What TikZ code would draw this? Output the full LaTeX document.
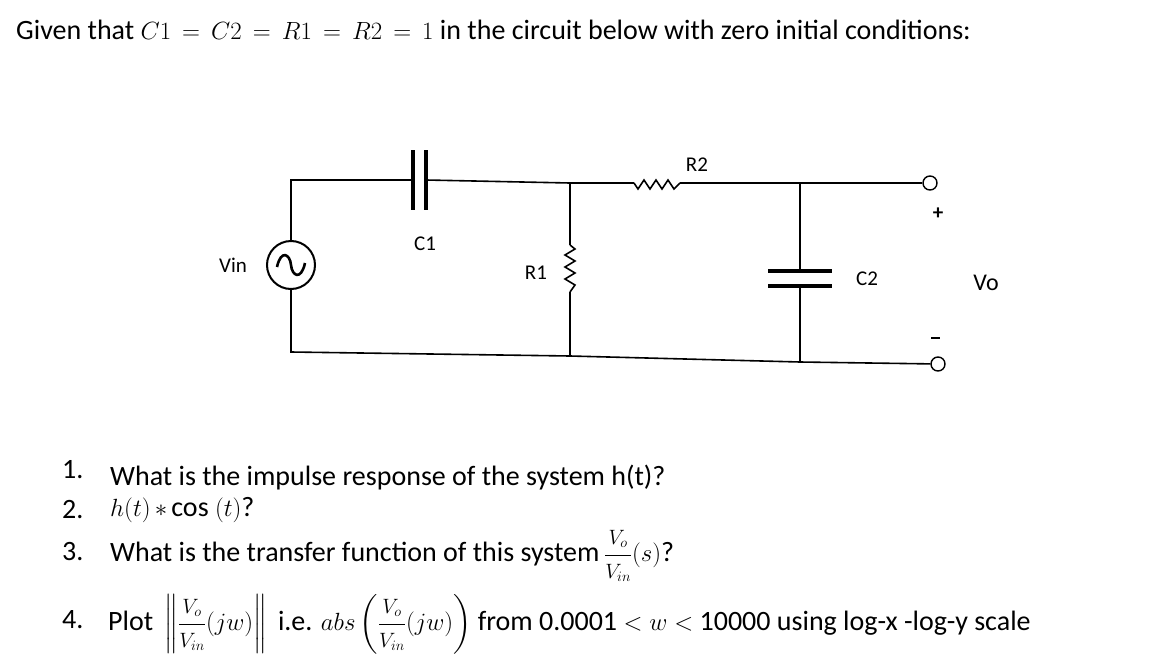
\documentclass[tikz,border=0pt]{standalone}
\usepackage{fontspec}
\setmainfont{Carlito}
\usepackage{amsmath}
\newcommand{\myfr}[2]{\genfrac{}{}{}{0}{\scriptstyle #1}{\scriptstyle #2}}
\begin{document}
\begin{tikzpicture}[x=1pt,y=-1pt,
  w/.style={line width=1.6pt},
  plate/.style={line width=3.2pt},
  lab/.style={font=\fontsize{21}{24}\selectfont},
  txt/.style={font=\fontsize{28}{32}\selectfont,anchor=west,inner sep=0},
  term/.style={circle,draw,line width=1.4pt,minimum size=14pt,inner sep=0,fill=white}]
\useasboundingbox (0,0) rectangle (1152,672);
\coordinate (tl) at (291,180);
\coordinate (bl) at (291,352);
\node[circle,draw,line width=2pt,minimum size=48pt,inner sep=0] (src) at (291,265) {};
\draw[line width=2.6pt] (277,267) .. controls (281,249) and (290,254) .. (291,265) .. controls (292,276) and (301,281) .. (305,263);
\coordinate (c1a) at (413,180);
\coordinate (c1b) at (426,180);
\coordinate (n1) at (570,183);
\coordinate (r1a) at (570,245);
\coordinate (r1b) at (570,292);
\coordinate (nb1) at (570,356);
\coordinate (r2a) at (634,183);
\coordinate (r2b) at (680,183);
\coordinate (n2) at (800,183);
\coordinate (c2a) at (800,271);
\coordinate (c2b) at (800,286);
\coordinate (nb2) at (800,362);
\node[term] (ot) at (930,183) {};
\node[term] (ob) at (938,364) {};
\draw[w] (src.north) -- (tl) -- (c1a);
\draw[w] (src.south) -- (bl) -- (nb1) -- (nb2) -- (ob);
\draw[w] (c1b) -- (n1) -- (r2a);
\draw[w] (n1) -- (r1a);
\draw[w] (r1b) -- (nb1);
\draw[w] (r2b) -- (n2) -- (ot);
\draw[w] (n2) -- (c2a);
\draw[w] (c2b) -- (nb2);
\draw[plate] (413,150) -- (413,210);
\draw[plate] (426,150) -- (426,210);
\draw[w] (r1a) -- ++(5,4) -- ++(-10,6) -- ++(10,6) -- ++(-10,6) -- ++(10,6) -- ++(-10,6) -- ++(10,6) -- (r1b);
\draw[w] (r2a) -- ++(4,6) -- ++(6,-9) -- ++(6,9) -- ++(6,-9) -- ++(6,9) -- ++(6,-9) -- ++(6,9) -- (r2b);
\draw[plate] (768,271) -- (832,271);
\draw[plate] (768,286) -- (832,286);
\node[lab] at (425,244) {C1};
\node[lab] at (697,165) {R2};
\node[lab] at (536,273) {R1};
\node[lab] at (867,279) {C2};
\node[lab] at (233,265) {Vin};
\node[lab,font=\fontsize{24}{28}\selectfont] at (986,283) {Vo};
\node[lab] at (938,214) {\textbf{+}};
\coordinate (m1) at (931,338); \coordinate (m2) at (940,338);
\draw[line width=2pt] (m1) -- (m2);
\node[txt] at (16,30) {Given that $C1\,=\,C2\,=\,R1\,=\,R2\,=\,1$ in the circuit below with zero initial conditions:};
\node[txt] at (62,470) {1.};
\node[txt] at (110,478) {What is the impulse response of the system h(t)?};
\node[txt] at (62,510) {2.};
\node[txt] at (110,510) {$h(t)\,*\,$cos $(t)$?};
\node[txt] at (62,552) {3.};
\node[txt] at (110,556) {What is the transfer function of this system\,$\myfr{V_o}{V_{in}}(s)$?};
\node[txt] at (62,620) {4.};
\node[txt] at (108,624) {Plot\, $\left\|\myfr{V_o}{V_{in}}(jw)\right\|$\, i.e. $abs\left(\myfr{V_o}{V_{in}}(jw)\right)$ from 0.0001 $<w<$ 10000 using log-x -log-y scale};
\end{tikzpicture}
\end{document}
